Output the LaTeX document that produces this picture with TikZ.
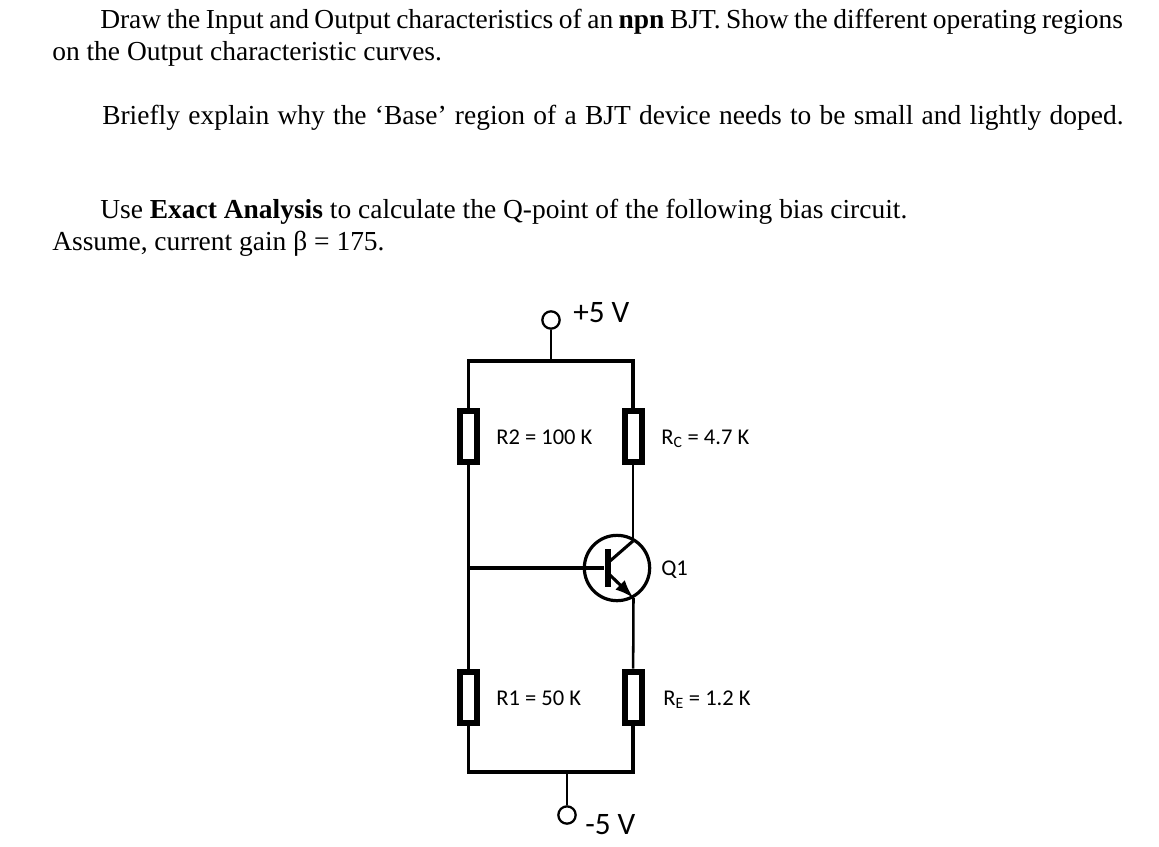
\documentclass[tikz,border=0pt]{standalone}
\usepackage{fontspec}
\setmainfont{Liberation Serif}
\newfontfamily\labelfont{Carlito}
\usetikzlibrary{arrows.meta}
\tikzstyle{every node}=[inner sep=0pt]
\tikzstyle{wire}=[line width=2.3pt]
\tikzstyle{stub}=[line width=1.9pt]
\tikzstyle{para}=[anchor=base west,font=\fontsize{20.6}{24}\selectfont]
\tikzstyle{lbl}=[anchor=base west,font=\labelfont\fontsize{16.9}{20}\selectfont]
\tikzstyle{volt}=[anchor=base west,font=\labelfont\fontsize{23.4}{27}\selectfont]
\tikzstyle{resistor}=[rectangle,
                      line width=4.5pt,
                      minimum width=12.75pt,
                      minimum height=38.25pt,
                      draw=black,
                      fill=white]
\tikzstyle{terminal}=[circle,
                      line width=1.7pt,
                      minimum size=13pt,
                      draw=black,
                      fill=white]

\begin{document}
\begin{tikzpicture}[x=.75pt,y=-.75pt,>={Latex[length=14pt,width=10pt]}]
\useasboundingbox[fill=white] (0,0) rectangle (1159,846);
\node (line1)   [para] at (100,28) {\makebox[767pt][s]{Draw the Input and Output characteristics of an \textbf{npn} BJT. Show the different operating regions}};
\node (line2)   [para] at (52,60) {on the Output characteristic curves.};
\node (line3)   [para] at (102,124) {\makebox[766pt][s]{Briefly explain why the ‘Base’ region of a BJT device needs to be small and lightly doped.}};
\node (line4)   [para] at (100,218) {Use \textbf{Exact Analysis} to calculate the Q-point of the following bias circuit.};
\node (line5)   [para] at (52,250) {Assume, current gain β = 175.};
% supply rails
\coordinate (top_l) at (468.5,361);
\coordinate (top_r) at (633,361);
\coordinate (top_m) at (551,361);
\coordinate (bot_l) at (468.5,772);
\coordinate (bot_r) at (633,772);
\coordinate (bot_m) at (567,772);
\coordinate (base_l) at (468.5,568);
\node (Vcc)   [terminal] at (551,320) {};
\node (Vee)   [terminal] at (567,815) {};
\node (R2)   [resistor] at (468.5,436.5) {};
\node (Rc)   [resistor] at (633,436.5) {};
\node (R1)   [resistor] at (468.5,697) {};
\node (Re)   [resistor] at (633,697) {};
% transistor
\node (Q1)   [circle,line width=2.4pt,minimum size=49pt,draw=black] at (617,568) {};
\node (Q1_bar)   [rectangle,fill=black,minimum width=5pt,minimum height=29pt] at (608,568) {};
\coordinate (coll) at (633,541);
\coordinate (emit) at (633.5,598);
\coordinate (coll_in) at (610,561);
\coordinate (emit_in) at (610,575);
\draw[wire,line cap=rect] (top_l) -- (top_r);
\draw[wire,line cap=rect] (bot_l) -- (bot_r);
\draw[stub] (Vcc) -- (top_m);
\draw[stub] (Vee) -- (bot_m);
\draw[wire] (top_l) -- (R2);
\draw[wire] (R2) -- (R1);
\draw[wire] (R1) -- (bot_l);
\draw[wire] (top_r) -- (Rc);
\draw[stub] (Rc) -- (coll);
\draw[stub] (emit) -- (Re);
\draw[wire] (Re) -- (bot_r);
\draw[wire] (base_l) -- (Q1_bar);
\draw[wire] (coll_in) -- (coll);
\draw[wire,->] (emit_in) -- (emit);
% labels
\node (V_plus)   [volt] at (573,322) {+5 V};
\node (V_minus)   [volt] at (585,834) {-5 V};
\node (R2_lbl)   [lbl] at (496,444) {R2 = 100 K};
\node (Rc_lbl)   [lbl] at (661,444) {R\textsubscript{C} = 4.7 K};
\node (Q1_lbl)   [lbl] at (661,575) {Q1};
\node (R1_lbl)   [lbl] at (496,705) {R1 = 50 K};
\node (Re_lbl)   [lbl] at (663,705) {R\textsubscript{E} = 1.2 K};
\end{tikzpicture}
\end{document}
